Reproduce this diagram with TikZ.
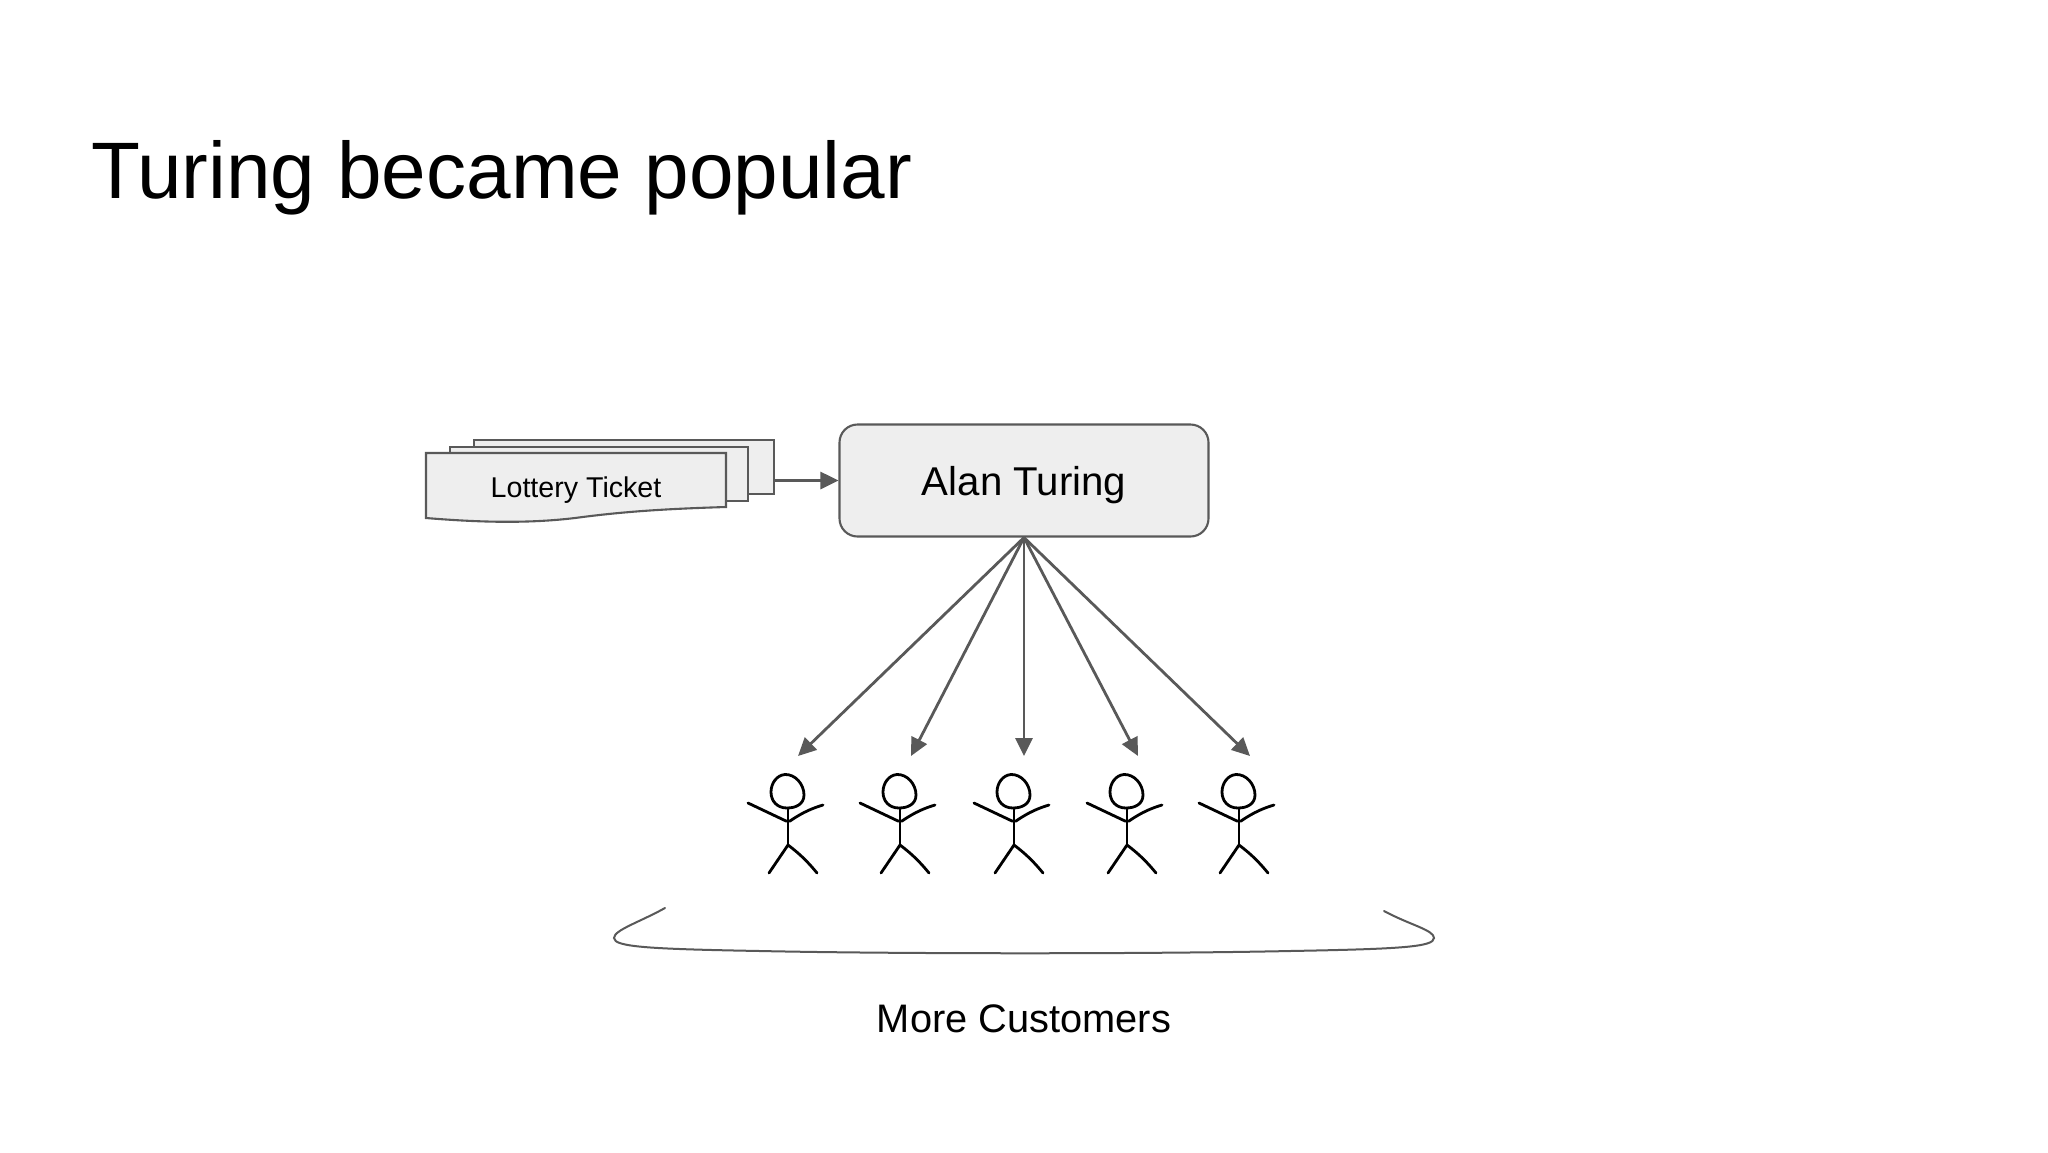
\documentclass[tikz,border=0pt]{standalone}
\usepackage{fontspec}
\setmainfont{Liberation Sans}
\usetikzlibrary{arrows.meta}
\definecolor{linegray}{HTML}{595959}
\definecolor{boxfill}{HTML}{EEEEEE}
\tikzset{
  x=1pt,y=-1pt,
  outline/.style={draw=linegray,line width=2.1pt,fill=boxfill},
  ticketsheet/.style={outline,rectangle,inner sep=0pt},
  connector/.style={draw=linegray,line width=2.8pt,-{Triangle[length=18pt,width=17pt]}},
  stick/.style={draw=black,line width=2.8pt,line cap=round,line join=round},
  person/.pic={
    \draw[stick] (-3,-17.5) .. controls (7,-18) and (16,-8) .. (16,3)
      .. controls (16,12) and (8,16) .. (-1,16)
      .. controls (-11,16) and (-17,9) .. (-17,0)
      .. controls (-17,-9) and (-11,-17) .. (-3,-17.5) -- cycle;
    \draw[stick] (0,16) -- (0,53);
    \draw[stick] (-40,11) -- (-2,29) -- (2,29) .. controls (15,20) and (25,16) .. (35,13);
    \draw[stick] (-19,81) -- (0,53) .. controls (12,62) and (20,70) .. (29,81);
  },
}
\begin{document}
\begin{tikzpicture}
\useasboundingbox (0,0) rectangle (2048,1152);
\fill[white] (0,0) rectangle (2048,1152);

\node[anchor=base west,inner sep=0pt,font=\fontsize{80.1}{90}\selectfont] (title) at (91,198) {Turing became popular};

\node[ticketsheet,minimum width=300pt,minimum height=54pt] (back) at (624,467) {};
\node[ticketsheet,minimum width=298pt,minimum height=54pt] (middle) at (599,474) {};
\draw[outline] (426,453) -- (726,453) -- (726,507)
  .. controls (660,509) and (620,512) .. (575,518)
  .. controls (525,524) and (475,522) .. (426,518) -- cycle;
\node[anchor=base,inner sep=0pt,font=\fontsize{28.6}{34}\selectfont] (ticket) at (576,497) {Lottery Ticket};

\node[outline,rectangle,rounded corners=18pt,minimum width=369pt,minimum height=112pt,inner sep=0pt] (turing) at (1024,480.5) {};
\node[anchor=base,inner sep=0pt,font=\fontsize{40.2}{46}\selectfont] (turinglabel) at (1024,495) {Alan Turing};

\coordinate (tip1) at (798,756);
\coordinate (tip2) at (911,756);
\coordinate (tip3) at (1024,756);
\coordinate (tip4) at (1138,756);
\coordinate (tip5) at (1250,756);

\draw[connector] (back.east |- turing.west) -- (turing.west);
\foreach \t in {1,...,5}{
  \draw[connector] (turing.south) -- (tip\t);
}

\pic at (788,792) {person};
\pic at (900,792) {person};
\pic at (1014,792) {person};
\pic at (1127,792) {person};
\pic at (1239,792) {person};

\draw[draw=linegray,line width=2pt,line cap=round]
  (665,908) .. controls (640,922) and (614,930) .. (614,938)
  .. controls (614,947) and (650,949) .. (760,951)
  .. controls (900,954) and (1150,954) .. (1290,951)
  .. controls (1400,949) and (1434,947) .. (1434,938)
  .. controls (1434,930) and (1410,925) .. (1384,911);

\node[anchor=base,inner sep=0pt,font=\fontsize{39.8}{46}\selectfont] (customers) at (1024,1032) {More Customers};
\end{tikzpicture}
\end{document}
